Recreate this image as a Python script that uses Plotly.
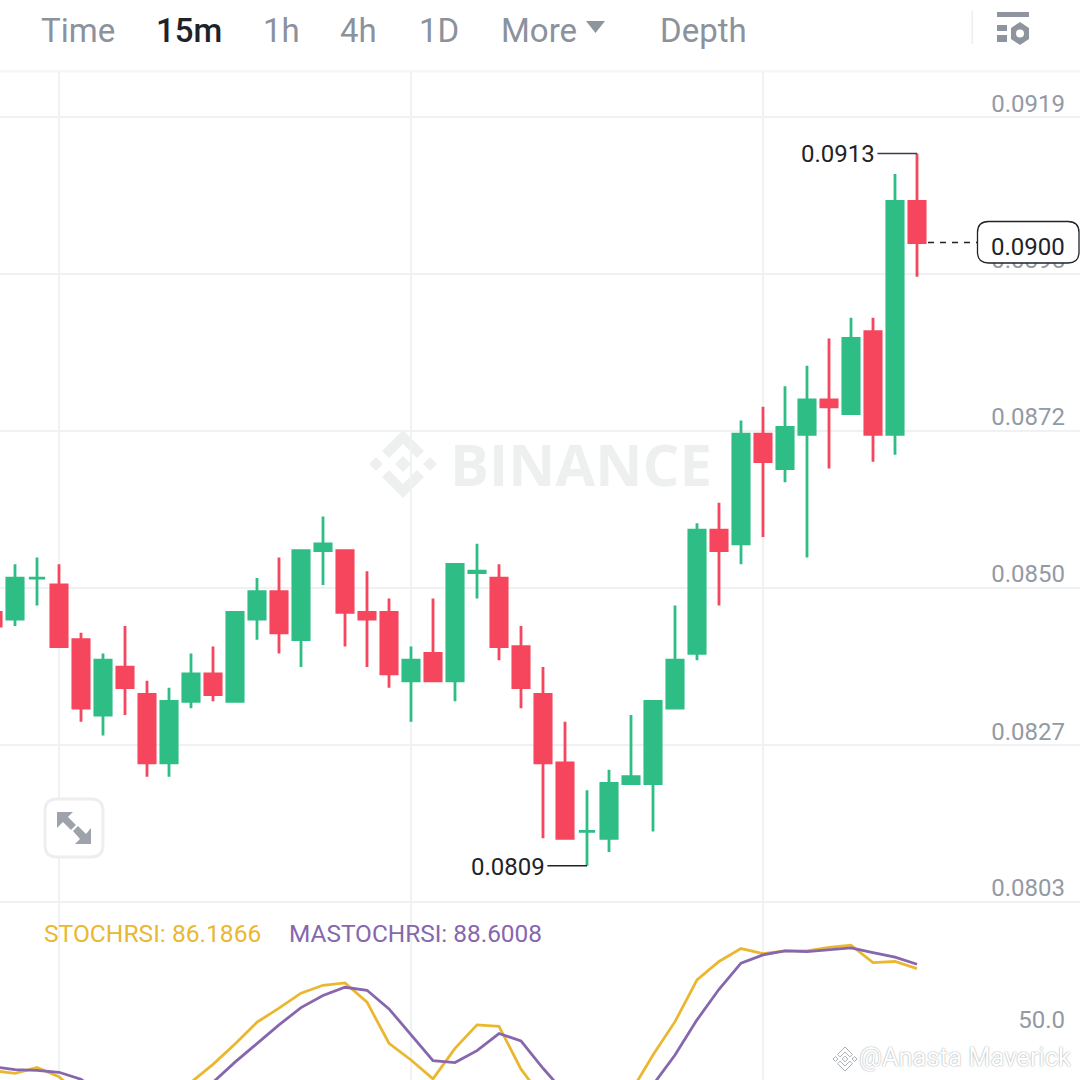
"""Binance style 15m candle chart with a STOCHRSI pane below it."""
import plotly.graph_objects as go
from plotly.subplots import make_subplots

# candle index, -1 is the one cut off by the left edge
candle_idx = list(range(-1, 42))

opens = [0.0846, 0.0845, 0.0851, 0.0850, 0.0842, 0.0831, 0.0838, 0.0834, 0.0824, 0.0833, 0.0837,
         0.0833, 0.0845, 0.0849, 0.0842, 0.0855, 0.0855, 0.0846, 0.0846, 0.0836, 0.0840, 0.0836,
         0.08518, 0.0851, 0.0841, 0.0834, 0.0824, 0.0814, 0.0813, 0.0821, 0.0821, 0.0832, 0.0840,
         0.0858, 0.0856, 0.0872, 0.0867, 0.0872, 0.0877, 0.0875, 0.0887, 0.0872, 0.0906]
closes = [0.0844, 0.0851, 0.0851, 0.0841, 0.0832, 0.0839, 0.0835, 0.0824, 0.0833, 0.0837, 0.0834,
          0.0846, 0.0849, 0.0843, 0.0855, 0.0856, 0.0846, 0.0845, 0.0837, 0.0839, 0.0836, 0.0853,
          0.0852, 0.0841, 0.0835, 0.0824, 0.0813, 0.0814, 0.0821, 0.0822, 0.0833, 0.0839, 0.0858,
          0.0855, 0.0872, 0.0868, 0.0873, 0.0877, 0.0876, 0.0886, 0.0872, 0.0906, 0.0900]
highs = [0.0846, 0.0853, 0.0854, 0.0853, 0.0843, 0.0840, 0.0844, 0.0836, 0.0835, 0.0840, 0.0841,
         0.0846, 0.0851, 0.0854, 0.0855, 0.0860, 0.0855, 0.0852, 0.0848, 0.0841, 0.0848, 0.0853,
         0.0856, 0.0853, 0.0844, 0.0838, 0.0830, 0.0820, 0.0823, 0.0831, 0.0833, 0.0847, 0.0859,
         0.0862, 0.0874, 0.0876, 0.0879, 0.0882, 0.0886, 0.0889, 0.0889, 0.0910, 0.0913]
lows = [0.0844, 0.0844, 0.0847, 0.0841, 0.0830, 0.0828, 0.0831, 0.0822, 0.0822, 0.0832, 0.0833,
        0.0833, 0.0842, 0.0840, 0.0838, 0.0850, 0.0841, 0.0838, 0.0835, 0.0830, 0.0836, 0.0833,
        0.0848, 0.0839, 0.0832, 0.0813, 0.0813, 0.0809, 0.0811, 0.0821, 0.0814, 0.0832, 0.0839,
        0.0847, 0.0853, 0.0857, 0.0865, 0.0854, 0.0867, 0.0875, 0.0868, 0.0869, 0.0895]

# the stretches below the bottom edge are guesses, the chart cuts them off
stochrsi = [29.5, 28.0, 31.2, 26.2, 15.0, 8.0, 5.0, 6.0, 12.0, 23.0, 33.0, 44.3, 56.4, 64.2, 72.5,
            76.9, 78.2, 67.5, 44.7, 35.4, 24.9, 41.9, 54.9, 54.15, 30.3, 14.0, 6.0, 3.0, 5.0, 17.8,
            38.2, 56.7, 79.9, 90.1, 97.3, 94.5, 96.0, 96.0, 97.9, 99.2, 89.5, 90.1, 86.19]
mastochrsi = [31.7, 30.1, 29.7, 28.6, 24.7, 16.0, 11.0, 8.0, 9.0, 16.0, 23.0, 34.2, 44.7, 54.9, 64.5,
              71.2, 75.8, 74.15, 63.8, 49.7, 35.1, 34.0, 40.6, 50.1, 46.0, 30.8, 17.0, 10.0, 7.0, 8.0,
              21.6, 38.2, 57.7, 74.7, 89.2, 93.8, 96.0, 95.6, 96.6, 97.7, 95.1, 92.5, 88.60]

price_ticks = [0.08037, 0.08266, 0.08496, 0.08725, 0.08954, 0.09183]
price_labels = ["0.0803", "0.0827", "0.0850", "0.0872", "0.0895", "0.0919"]
time_grid = [2, 18, 34]
tabs = [("Time", 40, 400), ("15m", 155, 500), ("1h", 262, 400), ("4h", 339, 400),
        ("1D", 418, 400), ("More", 500, 400), ("Depth", 659, 400)]

GREEN = "#2EBD85"
RED = "#F6465D"
YELLOW = "#EAB830"
PURPLE = "#8667AE"
DARK = "#1E2329"
GREY = "#929AA5"
GRID = "#F0F1F2"
FONT = "Roboto"


def px(x):
    return x / 1080


def py(y):
    return 1 - y / 1080


def path(points):
    return "M" + " L".join(f"{px(x):.5f} {py(y):.5f}" for x, y in points) + " Z"


def page_shape(points, color, layer="above", edge=None):
    line = dict(color=edge, width=1) if edge else dict(width=0)
    return dict(type="path", xref="paper", yref="paper", path=path(points),
                fillcolor=color, line=line, layer=layer)


def page_rect(x0, y0, x1, y1, color, layer="above"):
    return dict(type="rect", xref="paper", yref="paper", x0=px(x0), x1=px(x1), y0=py(y0), y1=py(y1),
                fillcolor=color, line=dict(width=0), layer=layer)


def rounded(x0, y0, x1, y1, r, fill, edge, width):
    d = (f"M{px(x0 + r):.5f} {py(y0):.5f} L{px(x1 - r):.5f} {py(y0):.5f} "
         f"Q{px(x1):.5f} {py(y0):.5f} {px(x1):.5f} {py(y0 + r):.5f} L{px(x1):.5f} {py(y1 - r):.5f} "
         f"Q{px(x1):.5f} {py(y1):.5f} {px(x1 - r):.5f} {py(y1):.5f} L{px(x0 + r):.5f} {py(y1):.5f} "
         f"Q{px(x0):.5f} {py(y1):.5f} {px(x0):.5f} {py(y1 - r):.5f} L{px(x0):.5f} {py(y0 + r):.5f} "
         f"Q{px(x0):.5f} {py(y0):.5f} {px(x0 + r):.5f} {py(y0):.5f} Z")
    return dict(type="path", xref="paper", yref="paper", path=d, fillcolor=fill,
                line=dict(color=edge, width=width), layer="above")


def binance_logo(cx, cy, s, color, layer="below", edge=None):
    """Four diamonds and two chevrons, s is half the logo height."""
    u = s / 34
    pts = [
        [(0, -8), (8, 0), (0, 8), (-8, 0)],
        [(-27, -7), (-20, 0), (-27, 7), (-34, 0)],
        [(27, -7), (34, 0), (27, 7), (20, 0)],
        [(0, -34), (21, -13), (14, -6), (0, -20), (-14, -6), (-21, -13)],
        [(0, 34), (-21, 13), (-14, 6), (0, 20), (14, 6), (21, 13)],
    ]
    return [page_shape([(cx + a * u, cy + b * u) for a, b in p], color, layer, edge) for p in pts]


def page_text(text, x, y, size, color, xanchor="left", weight=400, family=FONT, **font_extra):
    return dict(text=text, xref="paper", yref="paper", x=px(x), y=py(y), xanchor=xanchor, yanchor="middle",
                showarrow=False, borderpad=0, font=dict(family=family, size=size, color=color, weight=weight, **font_extra))


fig = make_subplots(rows=2, cols=1, shared_xaxes=True, vertical_spacing=0)

fig.add_trace(
    go.Candlestick(
        x=candle_idx, open=opens, high=highs, low=lows, close=closes, whiskerwidth=0,
        increasing=dict(line=dict(color=GREEN, width=2.8), fillcolor=GREEN),
        decreasing=dict(line=dict(color=RED, width=2.8), fillcolor=RED),
    ),
    row=1, col=1,
)
fig.add_trace(
    go.Scatter(x=candle_idx, y=stochrsi, mode="lines", line=dict(color=YELLOW, width=2.8)),
    row=2, col=1,
)
fig.add_trace(
    go.Scatter(x=candle_idx, y=mastochrsi, mode="lines", line=dict(color=PURPLE, width=2.8)),
    row=2, col=1,
)

shapes = []
# header strip
shapes.append(page_rect(0, 70, 1080, 72.5, "#F5F6F6"))
shapes.append(page_shape([(586, 21), (605, 21), (595.5, 33)], "#8F959E"))
shapes.append(page_rect(971.5, 11, 973, 44, "#ECEDEF"))
shapes.append(page_rect(997, 12, 1029, 17, "#8F959E"))
shapes.append(page_rect(997, 25, 1007, 31, "#8F959E"))
shapes.append(page_rect(997, 35, 1007, 42, "#8F959E"))
shapes.append(page_shape([(1020, 22), (1029, 28), (1029, 39), (1020, 45), (1011, 39), (1011, 28)], "#8F959E"))
shapes.append(dict(type="circle", xref="paper", yref="paper", x0=px(1016), x1=px(1024), y0=py(37.5), y1=py(29.5),
                   fillcolor="white", line=dict(width=0), layer="above"))

# expand button
shapes.append(rounded(45, 799, 103, 857, 12, "white", "#EDEEF0", 3))
shapes.append(page_shape([(57, 812), (73, 812), (68, 817), (76, 825), (71, 830), (63, 822), (57, 828)], "#9DA2AB"))
shapes.append(page_shape([(91, 844), (75, 844), (80, 839), (73, 831), (78, 826), (86, 834), (91, 828)], "#9DA2AB"))

# watermark logos
shapes += binance_logo(403, 464, 34, "#EEF0F0")
shapes += binance_logo(845, 1059, 12, "white", layer="above", edge="#A9AEB6")

# high / low leader lines
shapes.append(dict(type="line", xref="x", yref="y", x0=39.2, x1=41, y0=0.0913, y1=0.0913,
                   line=dict(color="#3A3F47", width=1.4), layer="above"))
shapes.append(dict(type="line", xref="x", yref="y", x0=24.2, x1=26, y0=0.0809, y1=0.0809,
                   line=dict(color="#1E2329", width=1.4), layer="above"))

# last price marker
shapes.append(dict(type="line", xref="x", yref="y", x0=41.5, x1=43.75, y0=0.0900, y1=0.0900,
                   line=dict(color="#1E2329", width=1.4, dash="6px,6px"), layer="above"))
shapes.append(rounded(977.5, 221.5, 1079, 263, 11, "white", "#1E2329", 1.3))

annotations = []
for label, x, weight in tabs:
    annotations.append(page_text(label, x, 30, 33, DARK if label == "15m" else "#8B929C", weight=weight))
annotations.append(page_text("0.0913", 876, 154, 24, DARK, xanchor="right"))
annotations.append(page_text("0.0809", 546, 867, 24, DARK, xanchor="right"))
annotations.append(page_text("0.0900", 1028, 247, 24, DARK, xanchor="center"))
annotations.append(page_text("STOCHRSI: 86.1866", 43, 933, 24.6, YELLOW))
annotations.append(page_text("MASTOCHRSI: 88.6008", 288, 933, 24.4, PURPLE))
annotations.append(page_text("BINANCE", 449, 464, 58, "#EEF0F0", weight=700, family="Open Sans"))
annotations.append(page_text("@Anasta Maverick", 1072, 1057, 25.5, "#FFFFFF", xanchor="right",
                             shadow="0 0 1.5px #7F8690"))

fig.update_layout(
    width=1080, height=1080,
    margin=dict(l=0, r=0, t=0, b=0),
    paper_bgcolor="white", plot_bgcolor="white",
    showlegend=False,
    boxgap=0.26, boxgroupgap=0,
    font=dict(family=FONT),
    shapes=shapes,
    annotations=annotations,
)
fig.update_xaxes(
    range=[-15 / 22, 1065 / 22], tickmode="array", tickvals=time_grid, showticklabels=False, ticks="",
    showgrid=True, gridcolor=GRID, gridwidth=1.5, zeroline=False, showline=False,
    rangeslider=dict(visible=False),
)
fig.update_yaxes(
    domain=[py(903), py(72)], range=[0.080355, 0.09249], side="right", tickmode="array",
    tickvals=price_ticks, ticktext=price_labels, ticklabelposition="inside", ticks="",
    ticklabelshift=-14, ticklabelstandoff=12, tickfont=dict(family=FONT, size=24, color=GREY),
    showgrid=True, gridcolor=GRID, gridwidth=1.5, zeroline=False, showline=False,
    row=1, col=1,
)
fig.update_yaxes(
    domain=[0, py(903)], range=[24.3, 122.6], side="right", tickmode="array",
    tickvals=[50], ticktext=["50.0"], ticklabelposition="inside", ticks="",
    ticklabelshift=-14, ticklabelstandoff=12, tickfont=dict(family=FONT, size=24, color=GREY),
    showgrid=False, zeroline=False, showline=False,
    row=2, col=1,
)
fig.update_xaxes(domain=[0, 1], row=1, col=1)

fig.write_html("out.html", config=dict(displayModeBar=False), post_script="document.body.style.margin='0';")
